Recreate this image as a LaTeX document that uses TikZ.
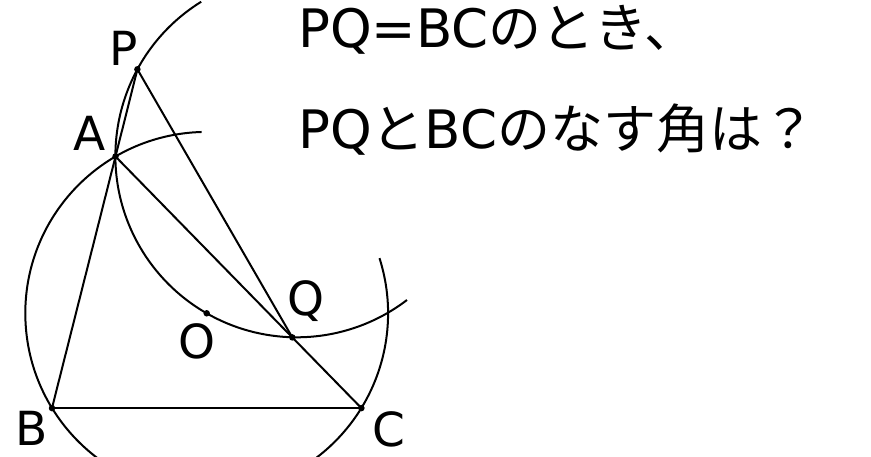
\documentclass[tikz,border=0pt]{standalone}
\usepackage{fontspec}
\setmainfont{DejaVu Sans}
\newfontfamily\jpfont{Noto Sans CJK JP}
\begin{document}
\begin{tikzpicture}[x=1pt,y=-1pt,
  geo/.style={line width=2pt, black},
  dot/.style={circle, fill=black, inner sep=0pt, minimum size=6.5pt},
  ptlabel/.style={font=\fontsize{47}{47}\selectfont, inner sep=0pt, anchor=base},
  txt/.style={font=\fontsize{53}{60}\selectfont, inner sep=0pt, anchor=base west}]
\useasboundingbox (0,0) rectangle (871,456);
\fill[white] (0,0) rectangle (871,456);
\clip (0,0) rectangle (871,456);
% points
\coordinate (O) at (206.7,313.3);
\coordinate (O2) at (296.8,155.9);
\coordinate (A) at (115.5,156.5);
\coordinate (B) at (52.0,408.1);
\coordinate (C) at (361.4,408.1);
\coordinate (P) at (137.4,69.3);
\coordinate (Q) at (292.3,337.4);
% circles (arcs)
\draw[geo] ([shift={(91.6:181.4pt)}]O) arc[start angle=91.6, end angle=377.7, radius=181.4pt];
\draw[geo] ([shift={(121.8:181.4pt)}]O2) arc[start angle=121.8, end angle=307.4, radius=181.4pt];
% segments
\draw[geo] (P) -- (A);
\draw[geo] (A) -- (B);
\draw[geo] (B) -- (C);
\draw[geo] (A) -- (C);
\draw[geo] (P) -- (Q);
% dots
\foreach \p in {P,A,B,C,O,Q} \node[dot] (d\p) at (\p) {};
% labels
\node[ptlabel] (lP) at (124,65) {P};
\node[ptlabel] (lA) at (89.5,150) {A};
\node[ptlabel] (lO) at (196.5,358) {O};
\node[ptlabel] (lQ) at (306,315) {Q};
\node[ptlabel] (lB) at (31.5,445) {B};
\node[ptlabel] (lC) at (388.5,446) {C};
% text
\node[txt] (t1) at (298,47) {PQ=BC{\jpfont のとき、}};
\node[txt] (t2) at (298,148) {PQ{\jpfont と}BC{\jpfont のなす角は？}};
\end{tikzpicture}
\end{document}
